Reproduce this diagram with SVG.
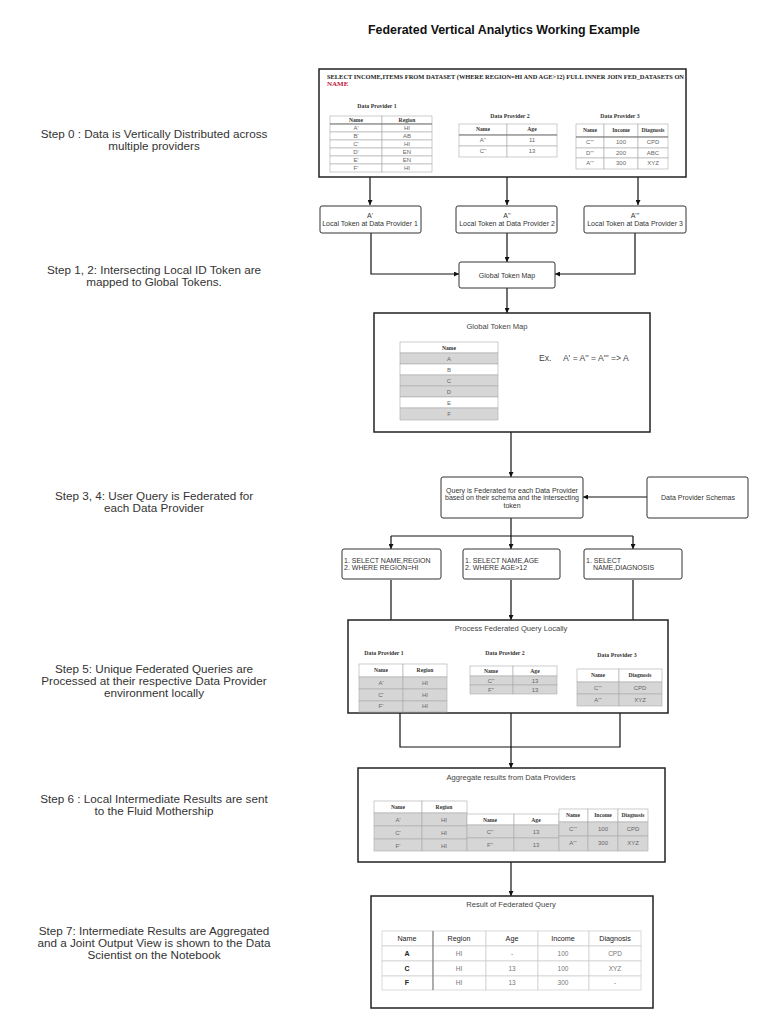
<svg xmlns="http://www.w3.org/2000/svg" width="768" height="1024" viewBox="0 0 768 1024">
<defs>
<marker id="arr" viewBox="0 0 10 10" refX="10" refY="5" markerWidth="5" markerHeight="5" orient="auto" markerUnits="userSpaceOnUse">
<path d="M0,0 L10,5 L0,10 z" fill="#111"/>
</marker>
<style>
.step{font-family:"Liberation Sans",Arial,sans-serif;font-size:11.7px;fill:#333;text-anchor:middle}
.title{font-family:"Liberation Sans",Arial,sans-serif;font-size:12.4px;font-weight:bold;fill:#111;text-anchor:middle}
.box{fill:#fff;stroke:#222;stroke-width:1.5}
.rbox{fill:#fff;stroke:#333;stroke-width:1}
.sm{font-family:"Liberation Sans",Arial,sans-serif;font-size:7px;fill:#333;text-anchor:middle}
.sml{font-family:"Liberation Sans",Arial,sans-serif;font-size:7px;fill:#333}
.cap{font-family:"Liberation Sans",Arial,sans-serif;font-size:7.6px;fill:#444;text-anchor:middle}
.th{font-family:"Liberation Serif","Times New Roman",serif;font-size:5.6px;font-weight:bold;fill:#333;text-anchor:middle}
.td{font-family:"Liberation Sans",Arial,sans-serif;font-size:6px;fill:#666;text-anchor:middle}
.lab{font-family:"Liberation Serif","Times New Roman",serif;font-size:5.8px;font-weight:bold;fill:#333;text-anchor:middle}
.cw{fill:#fff;stroke:#aaa;stroke-width:0.6}
.cg{fill:#d6d6d6;stroke:#aaa;stroke-width:0.6}
.conn{fill:none;stroke:#111;stroke-width:1.2}
.rth{font-family:"Liberation Sans",Arial,sans-serif;font-size:7.2px;fill:#222;text-anchor:middle}
.rtd{font-family:"Liberation Sans",Arial,sans-serif;font-size:6.5px;fill:#777;text-anchor:middle}
.rtb{font-family:"Liberation Sans",Arial,sans-serif;font-size:7px;font-weight:bold;fill:#222;text-anchor:middle}
</style>
</defs>
<rect width="768" height="1024" fill="#fff"/>

<text class="title" x="504" y="34">Federated Vertical Analytics Working Example</text>

<g id="steps">
<text class="step" x="154" y="138">Step 0 : Data is Vertically Distributed across</text>
<text class="step" x="154" y="150">multiple providers</text>
<text class="step" x="154" y="274">Step 1, 2: Intersecting Local ID Token are</text>
<text class="step" x="154" y="286">mapped to Global Tokens.</text>
<text class="step" x="154" y="500">Step 3, 4: User Query is Federated for</text>
<text class="step" x="154" y="512">each Data Provider</text>
<text class="step" x="154" y="673">Step 5: Unique Federated Queries are</text>
<text class="step" x="154" y="685">Processed at their respective Data Provider</text>
<text class="step" x="154" y="697">environment locally</text>
<text class="step" x="154" y="803">Step 6 : Local Intermediate Results are sent</text>
<text class="step" x="154" y="815">to the Fluid Mothership</text>
<text class="step" x="154" y="935">Step 7: Intermediate Results are Aggregated</text>
<text class="step" x="154" y="947">and a Joint Output View is shown to the Data</text>
<text class="step" x="154" y="959">Scientist on the Notebook</text>
</g>

<g id="connectors">
<path class="conn" d="M370,177 V205" marker-end="url(#arr)"/>
<path class="conn" d="M507,177 V205" marker-end="url(#arr)"/>
<path class="conn" d="M638,177 V205" marker-end="url(#arr)"/>
<path class="conn" d="M371,233 V274 H459" marker-end="url(#arr)" stroke-width="0.8"/>
<path class="conn" d="M507,233 V262" marker-end="url(#arr)"/>
<path class="conn" d="M635,233 V274 H555" marker-end="url(#arr)" stroke-width="0.8"/>
<path class="conn" d="M507,288 V313" marker-end="url(#arr)"/>
<path class="conn" d="M511,432 V477" marker-end="url(#arr)"/>
<path class="conn" d="M647,497 H583" marker-end="url(#arr)"/>
<path class="conn" d="M511,518 V549" marker-end="url(#arr)"/>
<path class="conn" d="M391,536 H633"/>
<path class="conn" d="M391,536 V549" marker-end="url(#arr)"/>
<path class="conn" d="M633,536 V549" marker-end="url(#arr)"/>
<path class="conn" d="M391,580 V620"/>
<path class="conn" d="M511,580 V620" marker-end="url(#arr)"/>
<path class="conn" d="M633,580 V620"/>
<path class="conn" d="M400,713 V747 H620 V713" stroke-width="0.9"/>
<path class="conn" d="M511,713 V768" marker-end="url(#arr)"/>
<path class="conn" d="M511,862 V896" marker-end="url(#arr)" stroke="#999"/>
</g>

<g id="dataset-box">
<rect class="box" x="319" y="69" width="367" height="108"/>
<text x="327" y="79" font-family="'Liberation Serif','Times New Roman',serif" font-size="6" font-weight="bold" fill="#222" textLength="357" lengthAdjust="spacingAndGlyphs">SELECT INCOME,ITEMS FROM DATASET (WHERE REGION=HI AND AGE&gt;12) FULL INNER JOIN FED_DATASETS ON</text>
<text x="327" y="86" font-family="'Liberation Serif','Times New Roman',serif" font-size="7" font-weight="bold" fill="#c0143c">NAME</text>

<text class="lab" x="377" y="108">Data Provider 1</text>
<rect class="cw" x="330" y="116" width="52" height="8"/><rect class="cw" x="382" y="116" width="50" height="8"/>
<rect class="cw" x="330" y="124" width="52" height="8"/><rect class="cw" x="382" y="124" width="50" height="8"/>
<rect class="cw" x="330" y="132" width="52" height="8"/><rect class="cw" x="382" y="132" width="50" height="8"/>
<rect class="cw" x="330" y="140" width="52" height="8"/><rect class="cw" x="382" y="140" width="50" height="8"/>
<rect class="cw" x="330" y="148" width="52" height="8"/><rect class="cw" x="382" y="148" width="50" height="8"/>
<rect class="cw" x="330" y="156" width="52" height="8"/><rect class="cw" x="382" y="156" width="50" height="8"/>
<rect class="cw" x="330" y="164" width="52" height="8"/><rect class="cw" x="382" y="164" width="50" height="8"/>
<line x1="330" y1="124" x2="432" y2="124" stroke="#666" stroke-width="0.8"/>
<text class="th" x="356" y="122">Name</text><text class="th" x="407" y="122">Region</text>
<text class="td" x="356" y="130">A'</text><text class="td" x="407" y="130">HI</text>
<text class="td" x="356" y="138">B'</text><text class="td" x="407" y="138">AB</text>
<text class="td" x="356" y="146">C'</text><text class="td" x="407" y="146">HI</text>
<text class="td" x="356" y="154">D'</text><text class="td" x="407" y="154">EN</text>
<text class="td" x="356" y="162">E'</text><text class="td" x="407" y="162">EN</text>
<text class="td" x="356" y="170">F'</text><text class="td" x="407" y="170">HI</text>

<text class="lab" x="510" y="118">Data Provider 2</text>
<rect class="cw" x="459" y="124" width="48" height="11"/><rect class="cw" x="507" y="124" width="50" height="11"/>
<rect class="cw" x="459" y="135" width="48" height="11"/><rect class="cw" x="507" y="135" width="50" height="11"/>
<rect class="cw" x="459" y="146" width="48" height="11"/><rect class="cw" x="507" y="146" width="50" height="11"/>
<line x1="459" y1="135" x2="557" y2="135" stroke="#666" stroke-width="0.8"/>
<text class="th" x="483" y="131">Name</text><text class="th" x="532" y="131">Age</text>
<text class="td" x="483" y="142">A''</text><text class="td" x="532" y="142">11</text>
<text class="td" x="483" y="153">C''</text><text class="td" x="532" y="153">13</text>

<text class="lab" x="620" y="118">Data Provider 3</text>
<rect class="cw" x="576" y="124" width="28" height="13"/><rect class="cw" x="604" y="124" width="34" height="13"/><rect class="cw" x="638" y="124" width="30" height="13"/>
<rect class="cw" x="576" y="137" width="28" height="11"/><rect class="cw" x="604" y="137" width="34" height="11"/><rect class="cw" x="638" y="137" width="30" height="11"/>
<rect class="cw" x="576" y="148" width="28" height="10"/><rect class="cw" x="604" y="148" width="34" height="10"/><rect class="cw" x="638" y="148" width="30" height="10"/>
<rect class="cw" x="576" y="158" width="28" height="11"/><rect class="cw" x="604" y="158" width="34" height="11"/><rect class="cw" x="638" y="158" width="30" height="11"/>
<line x1="576" y1="137" x2="668" y2="137" stroke="#666" stroke-width="0.8"/>
<text class="th" x="590" y="132">Name</text><text class="th" x="621" y="132">Income</text><text class="th" x="653" y="132">Diagnosis</text>
<text class="td" x="590" y="144">C'''</text><text class="td" x="621" y="144">100</text><text class="td" x="653" y="144">CPD</text>
<text class="td" x="590" y="155">D'''</text><text class="td" x="621" y="155">200</text><text class="td" x="653" y="155">ABC</text>
<text class="td" x="590" y="165">A'''</text><text class="td" x="621" y="165">300</text><text class="td" x="653" y="165">XYZ</text>
</g>

<g id="local-token-1">
<rect class="rbox" x="320" y="206" width="101" height="27" rx="2"/>
<text class="sm" x="370" y="217.5">A'</text>
<text class="sm" x="370" y="226">Local Token at Data Provider 1</text>
</g>
<g id="local-token-2">
<rect class="rbox" x="456" y="206" width="101" height="27" rx="2"/>
<text class="sm" x="507" y="217.5">A''</text>
<text class="sm" x="507" y="226">Local Token at Data Provider 2</text>
</g>
<g id="local-token-3">
<rect class="rbox" x="584" y="206" width="102" height="27" rx="2"/>
<text class="sm" x="635" y="217.5">A'''</text>
<text class="sm" x="635" y="226">Local Token at Data Provider 3</text>
</g>

<g id="global-token-small">
<rect class="rbox" x="459" y="262" width="96" height="26" rx="2"/>
<text class="sm" x="507" y="277.5">Global Token Map</text>
</g>

<g id="global-token-map">
<rect class="box" x="374" y="313" width="276" height="119"/>
<text class="cap" x="497" y="329" font-size="8.5">Global Token Map</text>
<rect class="cw" x="400" y="342" width="98" height="11"/>
<rect class="cg" x="400" y="353" width="98" height="11"/>
<rect class="cw" x="400" y="364" width="98" height="11"/>
<rect class="cg" x="400" y="375" width="98" height="11"/>
<rect class="cg" x="400" y="386" width="98" height="11"/>
<rect class="cw" x="400" y="397" width="98" height="11"/>
<rect class="cg" x="400" y="408" width="98" height="12"/>
<text class="th" x="449" y="349.5">Name</text>
<text class="td" x="449" y="360.5">A</text>
<text class="td" x="449" y="371.5">B</text>
<text class="td" x="449" y="382.5">C</text>
<text class="td" x="449" y="393.5">D</text>
<text class="td" x="449" y="404.5">E</text>
<text class="td" x="449" y="416">F</text>
<text x="539" y="361" font-family="'Liberation Sans',Arial,sans-serif" font-size="8.6" fill="#444" xml:space="preserve">Ex.     A' = A'' = A''' =&gt; A</text>
</g>

<g id="query-federated">
<rect class="rbox" x="441" y="477" width="142" height="41" rx="2"/>
<text class="sm" x="512" y="492.5">Query is Federated for each Data Provider</text>
<text class="sm" x="512" y="500">based on their schema and the intersecting</text>
<text class="sm" x="512" y="507.5">token</text>
</g>

<g id="data-provider-schemas">
<rect class="rbox" x="647" y="477" width="101" height="41" rx="2"/>
<text class="sm" x="698" y="500">Data Provider Schemas</text>
</g>

<g id="query-1">
<rect class="rbox" x="342" y="549" width="99" height="30" rx="2"/>
<text class="sml" x="344" y="563">1. SELECT NAME,REGION</text>
<text class="sml" x="344" y="570">2. WHERE REGION=HI</text>
</g>
<g id="query-2">
<rect class="rbox" x="463" y="549" width="97" height="30" rx="2"/>
<text class="sml" x="465" y="563">1. SELECT NAME,AGE</text>
<text class="sml" x="465" y="570">2. WHERE AGE&gt;12</text>
</g>
<g id="query-3">
<rect class="rbox" x="584" y="549" width="98" height="30" rx="2"/>
<text class="sml" x="586" y="563">1. SELECT</text>
<text class="sml" x="593" y="570">NAME,DIAGNOSIS</text>
</g>

<g id="process-locally">
<rect class="box" x="348" y="620" width="320" height="93"/>
<text class="cap" x="511" y="631">Process Federated Query Locally</text>
<text class="lab" x="384" y="655">Data Provider 1</text>
<rect class="cw" x="359" y="664" width="44" height="13"/><rect class="cw" x="403" y="664" width="44" height="13"/>
<rect class="cg" x="359" y="677" width="44" height="12"/><rect class="cg" x="403" y="677" width="44" height="12"/>
<rect class="cg" x="359" y="689" width="44" height="12"/><rect class="cg" x="403" y="689" width="44" height="12"/>
<rect class="cg" x="359" y="701" width="44" height="11"/><rect class="cg" x="403" y="701" width="44" height="11"/>
<text class="th" x="381" y="672">Name</text><text class="th" x="425" y="672">Region</text>
<text class="td" x="381" y="685">A'</text><text class="td" x="425" y="685">HI</text>
<text class="td" x="381" y="697">C'</text><text class="td" x="425" y="697">HI</text>
<text class="td" x="381" y="708">F'</text><text class="td" x="425" y="708">HI</text>

<text class="lab" x="505" y="655">Data Provider 2</text>
<rect class="cw" x="470" y="666" width="43" height="10"/><rect class="cw" x="513" y="666" width="44" height="10"/>
<rect class="cg" x="470" y="676" width="43" height="9"/><rect class="cg" x="513" y="676" width="44" height="9"/>
<rect class="cg" x="470" y="685" width="43" height="9"/><rect class="cg" x="513" y="685" width="44" height="9"/>
<text class="th" x="491" y="673">Name</text><text class="th" x="535" y="673">Age</text>
<text class="td" x="491" y="682.5">C''</text><text class="td" x="535" y="682.5">13</text>
<text class="td" x="491" y="691.5">F''</text><text class="td" x="535" y="691.5">13</text>

<text class="lab" x="617" y="657">Data Provider 3</text>
<rect class="cw" x="577" y="669" width="42" height="13"/><rect class="cw" x="619" y="669" width="43" height="13"/>
<rect class="cg" x="577" y="682" width="42" height="12"/><rect class="cg" x="619" y="682" width="43" height="12"/>
<rect class="cg" x="577" y="694" width="42" height="12"/><rect class="cg" x="619" y="694" width="43" height="12"/>
<text class="th" x="598" y="677">Name</text><text class="th" x="640" y="677">Diagnosis</text>
<text class="td" x="598" y="690">C'''</text><text class="td" x="640" y="690">CPD</text>
<text class="td" x="598" y="702">A'''</text><text class="td" x="640" y="702">XYZ</text>
</g>

<g id="aggregate-results">
<rect class="box" x="358" y="768" width="307" height="94"/>
<text class="cap" x="511" y="780">Aggregate results from Data Providers</text>
<rect class="cw" x="374" y="801" width="48" height="12"/><rect class="cw" x="422" y="801" width="45" height="12"/>
<rect class="cg" x="374" y="813" width="48" height="13"/><rect class="cg" x="422" y="813" width="45" height="13"/>
<rect class="cg" x="374" y="826" width="48" height="13"/><rect class="cg" x="422" y="826" width="45" height="13"/>
<rect class="cg" x="374" y="839" width="48" height="12"/><rect class="cg" x="422" y="839" width="45" height="12"/>
<text class="th" x="398" y="809">Name</text><text class="th" x="444" y="809">Region</text>
<text class="td" x="398" y="822">A'</text><text class="td" x="444" y="822">HI</text>
<text class="td" x="398" y="835">C'</text><text class="td" x="444" y="835">HI</text>
<text class="td" x="398" y="848">F'</text><text class="td" x="444" y="848">HI</text>

<rect class="cw" x="467" y="814" width="47" height="11"/><rect class="cw" x="514" y="814" width="45" height="11"/>
<rect class="cg" x="467" y="825" width="47" height="13"/><rect class="cg" x="514" y="825" width="45" height="13"/>
<rect class="cg" x="467" y="838" width="47" height="13"/><rect class="cg" x="514" y="838" width="45" height="13"/>
<text class="th" x="490" y="822">Name</text><text class="th" x="536" y="822">Age</text>
<text class="td" x="490" y="834">C''</text><text class="td" x="536" y="834">13</text>
<text class="td" x="490" y="847">F''</text><text class="td" x="536" y="847">13</text>

<rect class="cw" x="559" y="809" width="29" height="13"/><rect class="cw" x="588" y="809" width="30" height="13"/><rect class="cw" x="618" y="809" width="30" height="13"/>
<rect class="cg" x="559" y="822" width="29" height="14"/><rect class="cg" x="588" y="822" width="30" height="14"/><rect class="cg" x="618" y="822" width="30" height="14"/>
<rect class="cg" x="559" y="836" width="29" height="15"/><rect class="cg" x="588" y="836" width="30" height="15"/><rect class="cg" x="618" y="836" width="30" height="15"/>
<text class="th" x="573" y="817">Name</text><text class="th" x="603" y="817">Income</text><text class="th" x="633" y="817">Diagnosis</text>
<text class="td" x="573" y="831">C'''</text><text class="td" x="603" y="831">100</text><text class="td" x="633" y="831">CPD</text>
<text class="td" x="573" y="845">A'''</text><text class="td" x="603" y="845">300</text><text class="td" x="633" y="845">XYZ</text>
</g>

<g id="result-query">
<rect class="box" x="371" y="896" width="282" height="112"/>
<text class="cap" x="511" y="907" font-size="8.4">Result of Federated Query</text>
<g fill="#fff" stroke="#ccc" stroke-width="0.7">
<rect x="382" y="931" width="51" height="15"/><rect x="433" y="931" width="53" height="15"/><rect x="486" y="931" width="52" height="15"/><rect x="538" y="931" width="51" height="15"/><rect x="589" y="931" width="52" height="15"/>
<rect x="382" y="946" width="51" height="15"/><rect x="433" y="946" width="53" height="15"/><rect x="486" y="946" width="52" height="15"/><rect x="538" y="946" width="51" height="15"/><rect x="589" y="946" width="52" height="15"/>
<rect x="382" y="961" width="51" height="15"/><rect x="433" y="961" width="53" height="15"/><rect x="486" y="961" width="52" height="15"/><rect x="538" y="961" width="51" height="15"/><rect x="589" y="961" width="52" height="15"/>
<rect x="382" y="976" width="51" height="14"/><rect x="433" y="976" width="53" height="14"/><rect x="486" y="976" width="52" height="14"/><rect x="538" y="976" width="51" height="14"/><rect x="589" y="976" width="52" height="14"/>
</g>
<line x1="433" y1="931" x2="433" y2="990" stroke="#555" stroke-width="0.8"/>
<text class="rth" x="407" y="941">Name</text><text class="rth" x="459" y="941">Region</text><text class="rth" x="512" y="941">Age</text><text class="rth" x="563" y="941">Income</text><text class="rth" x="615" y="941">Diagnosis</text>
<text class="rtb" x="407" y="956">A</text><text class="rtd" x="459" y="956">HI</text><text class="rtd" x="512" y="956">-</text><text class="rtd" x="563" y="956">100</text><text class="rtd" x="615" y="956">CPD</text>
<text class="rtb" x="407" y="971">C</text><text class="rtd" x="459" y="971">HI</text><text class="rtd" x="512" y="971">13</text><text class="rtd" x="563" y="971">100</text><text class="rtd" x="615" y="971">XYZ</text>
<text class="rtb" x="407" y="985">F</text><text class="rtd" x="459" y="985">HI</text><text class="rtd" x="512" y="985">13</text><text class="rtd" x="563" y="985">300</text><text class="rtd" x="615" y="985">-</text>
</g>
</svg>
